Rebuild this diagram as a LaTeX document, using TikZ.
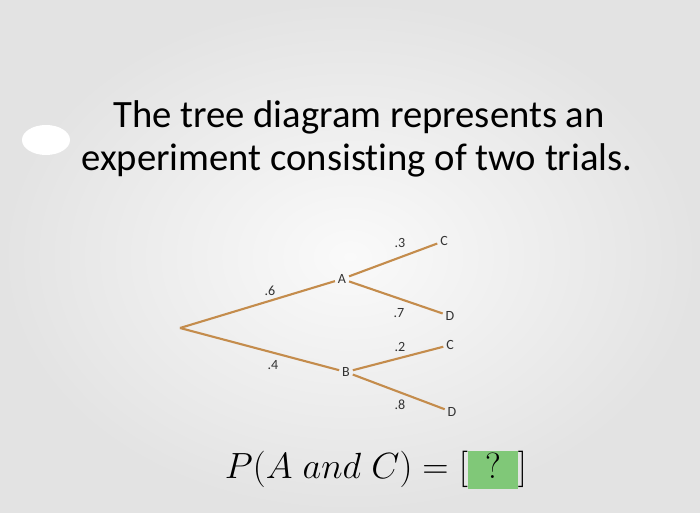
\documentclass[tikz,border=0pt]{standalone}
\usepackage{fontspec}
\setmainfont[Ligatures=NoCommon]{Carlito}
\usepackage{tikz}
\definecolor{branch}{HTML}{C48C4C}
\definecolor{answer}{HTML}{80C878}

\begin{document}
\begin{tikzpicture}[x=0.02cm, y=-0.02cm,
    branch/.style={draw=branch, line width=1.2pt},
    pt/.style={inner sep=1.5pt, font=\fontsize{8}{8}\selectfont, text=black!80},
    prob/.style={inner sep=0pt, font=\fontsize{8}{8}\selectfont, text=black!80}]
    \useasboundingbox (0,0) rectangle (700,513);
    \shade[inner color=gray!4, outer color=gray!22] (0,0) rectangle (700,513);
    \fill[white] (46,140) ellipse (24 and 15);   % glare on the screen

    \node[font=\fontsize{22}{24}\selectfont] (title1) at (359,117) {The tree diagram represents an};
    \node[font=\fontsize{22}{24}\selectfont] (title2) at (357,160) {experiment consisting of two trials.};

    \coordinate (root) at (180,328);
    \node[pt] (A) at (342,279) {A};
    \node[pt] (B) at (346,372) {B};
    \node[pt] (C1) at (444,241) {C};
    \node[pt] (D1) at (450,316) {D};
    \node[pt] (C2) at (450,345) {C};
    \node[pt] (D2) at (452,412) {D};

    \draw[branch] (root) -- (A);
    \draw[branch] (root) -- (B);
    \draw[branch] (A) -- (C1);
    \draw[branch] (A) -- (D1);
    \draw[branch] (B) -- (C2);
    \draw[branch] (B) -- (D2);

    \node[prob] (pA) at (270,291) {.6};
    \node[prob] (pB) at (273,365) {.4};
    \node[prob] (pAC) at (400,243) {.3};
    \node[prob] (pAD) at (399,313) {.7};
    \node[prob] (pBC) at (400,347) {.2};
    \node[prob] (pBD) at (400,405) {.8};

    \setlength{\fboxsep}{0pt}
    \node[font=\fontsize{21}{24}\selectfont] (query) at (376,470)
        {$P(A\;and\;C) = [\colorbox{answer}{\makebox[1cm]{\rule[-0.2cm]{0pt}{0.76cm}$?$}}]$};
\end{tikzpicture}
\end{document}
